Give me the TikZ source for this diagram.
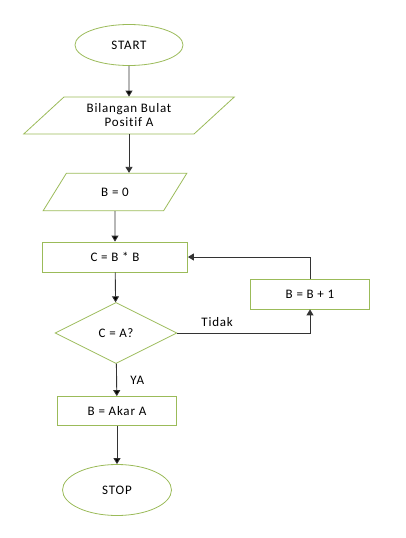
\documentclass[tikz,border=0pt]{standalone}
\usepackage{fontspec}
\setmainfont{Carlito}[LetterSpace=6,Ligatures=CommonOff]
\usetikzlibrary{shapes.geometric,positioning,arrows.meta}
\definecolor{olive}{HTML}{9BBB59}
\definecolor{wire}{HTML}{333333}
\begin{document}
\begin{tikzpicture}[node distance=70pt,on grid,auto,
    font=\fontsize{13}{14}\selectfont,
    >={Triangle[length=6pt,width=7pt]},
    box/.style={draw=olive,line width=0.8pt,inner sep=0pt,align=center},
    term/.style={box,ellipse},
    io/.style={box,trapezium,trapezium stretches=true},
    proc/.style={box,rectangle},
    cond/.style={box,diamond,minimum width=122pt,minimum height=61pt},
    line/.style={draw=wire,line width=0.9pt,->}]
			\useasboundingbox (0,0) rectangle (406pt,-538pt);
			\node[term, minimum width=108pt, minimum height=41pt] (start) at (129pt,-45pt) {START};
			\node[io, trapezium left angle=41.4, trapezium right angle=138.6,
			      minimum width=211pt, minimum height=37pt] (in1) [below=70.5pt of start] {Bilangan Bulat\\Positif A};
			\node[io, trapezium left angle=52.3, trapezium right angle=127.7,
			      minimum width=144pt, minimum height=37.5pt] (in2) [below left=76.5pt and 14pt of in1] {B = 0};
			\node[proc, minimum width=145pt, minimum height=30pt] (calc) [below=65pt of in2] {C = B * B};
			\node[cond] (cek) [below right=76pt and 1pt of calc] {C = A?};
			\node[proc, minimum width=119pt, minimum height=30pt] (inc) [above right=39pt and 194pt of cek] {B = B + 1};
			\node[proc, minimum width=119pt, minimum height=29pt] (hasil) [below right=78pt and 1pt of cek] {B = Akar A};
			\node[term, minimum width=109pt, minimum height=51pt] (stop) [below=79pt of hasil] {STOP};
			\path[line]
			(start) edge (in1)
			(in2) edge (calc)
			(calc) edge (cek)
			(cek) edge node[right=10pt] {YA} (hasil)
			(hasil) edge (stop);
			\draw[line] (in1.south) -- (in1.south |- in2.north);
			\draw[line] (cek.east) -| node[pos=0.15,above=3pt] {Tidak} (inc.south);
			\draw[line] (inc.north) |- (calc.east);
		\end{tikzpicture}
\end{document}
